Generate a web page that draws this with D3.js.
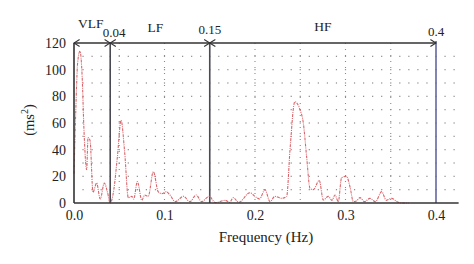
<!DOCTYPE html>
<html>
  <head>
    <meta charset="utf-8">
    <script src="https://d3js.org/d3.v7.min.js"></script>
    <style>
      body { margin: 0; background: #fff; }
      text { font-family: "Liberation Serif", "DejaVu Serif", serif; fill: #222; }
    </style>
  </head>
  <body>
    <svg width="474" height="264" id="chart"></svg>
    <script>
      // spectrum
      var freq = [0.000, 0.002, 0.004, 0.0066, 0.009, 0.011, 0.014, 0.0155, 0.0177, 0.021, 0.025, 0.029, 0.0335, 0.037, 0.040,
                  0.044, 0.048, 0.052, 0.056, 0.060, 0.064, 0.066, 0.070, 0.075, 0.078, 0.082, 0.0877, 0.093, 0.097, 0.102, 0.106,
                  0.112, 0.121, 0.128, 0.135, 0.141, 0.1495, 0.156, 0.167, 0.172, 0.176, 0.182, 0.1945, 0.200, 0.205, 0.211,
                  0.2166, 0.222, 0.2295, 0.235, 0.2387, 0.244, 0.2497, 0.2534, 0.257, 0.2608, 0.2644, 0.271, 0.2755, 0.281,
                  0.285, 0.2884, 0.292, 0.2957, 0.301, 0.305, 0.3087, 0.312, 0.316, 0.321, 0.327, 0.333, 0.340, 0.345, 0.351,
                  0.357, 0.364, 0.370];
      var power = [22, 70, 105, 114, 95, 55, 25, 49, 47, 8, 15, 3, 15, 8, 0,
                   10, 35, 62, 38, 4, 5, 3, 16, 2, 6, 5, 23.5, 8.5, 7, 8.5, 6,
                   1, 5, 1, 6, 1, 5, 0.3, 2, 0.5, 4, 0.5, 7.7, 5, 3, 10,
                   1, 5, 3.5, 5, 40, 76, 70, 60, 35, 11, 10, 17, 2.2, 5,
                   2, 6, 1, 19, 20, 12, 1, 1.5, 4, 1, 3.5, 1, 8.5, 2, 3.5,
                   1, 0, 0];

      var bandEdges = [0, 0.04, 0.15, 0.4];
      var bandNames = ["VLF", "LF", "HF"];
      var bandLabelPos = [0.0185, 0.09, 0.275];
      var edgeLabels = ["0.04", "0.15", "0.4"];
      var xTicks = [0.0, 0.1, 0.2, 0.3, 0.4];
      var yTicks = [0, 20, 40, 60, 80, 100, 120];

      var svg = d3.select("#chart");
      var x = d3.scaleLinear().domain([0, 0.4]).range([74, 436]);
      var y = d3.scaleLinear().domain([0, 120]).range([203, 43]);
      var xEnd = x(0.425);

      var defs = svg.append("defs");
      ["start", "end"].forEach(function (k) {
        defs.append("marker")
            .attr("id", "chev-" + k)
            .attr("viewBox", "0 0 10 10")
            .attr("refX", k == "end" ? 9 : 1).attr("refY", 5)
            .attr("markerWidth", 7).attr("markerHeight", 10)
            .attr("markerUnits", "userSpaceOnUse")
            .attr("orient", "auto")
          .append("path")
            .attr("d", k == "end" ? "M1,0 L9,5 L1,10" : "M9,0 L1,5 L9,10")
            .attr("fill", "none").attr("stroke", "#333").attr("stroke-width", 1.5);
      });

      // dotted grid
      var g = svg.append("g");
      var gx = d3.range(1, 43).map(function (i) { return i / 100; });
      d3.range(10, 120, 10).forEach(function (v) {
        g.selectAll(null).data(gx).enter().append("rect")
          .attr("x", function (d) { return x(d) - 0.6; })
          .attr("y", y(v) - 0.6)
          .attr("width", 1.2).attr("height", 1.2)
          .attr("fill", "#8a8a8a");
      });
      [0.05, 0.1, 0.2, 0.25, 0.3, 0.35].forEach(function (f) {
        g.append("line")
          .attr("x1", x(f)).attr("x2", x(f))
          .attr("y1", y(120)).attr("y2", y(0))
          .attr("stroke", "#8a8a8a").attr("stroke-width", 1.1)
          .attr("stroke-dasharray", "1,5");
      });

      // band boundaries
      [0.04, 0.15].forEach(function (f) {
        svg.append("line")
          .attr("x1", x(f)).attr("x2", x(f))
          .attr("y1", y(120)).attr("y2", y(0))
          .attr("stroke", "#4a4a55").attr("stroke-width", 1.6);
      });
      svg.append("line")
        .attr("x1", x(0.4)).attr("x2", x(0.4))
        .attr("y1", y(120) - 2).attr("y2", y(0))
        .attr("stroke", "#6666a0").attr("stroke-width", 1.6);

      // spectrum
      var pts = freq.map(function (f, i) { return [f, power[i]]; });
      svg.append("path")
        .datum(pts)
        .attr("fill", "none")
        .attr("stroke", "#d9656b")
        .attr("stroke-width", 1.1)
        .attr("stroke-dasharray", "3,1,1,1")
        .attr("d", d3.line()
          .x(function (d) { return x(d[0]); })
          .y(function (d) { return y(d[1]); })
          .curve(d3.curveMonotoneX));

      // axes
      svg.append("line")
        .attr("x1", x(0)).attr("x2", x(0)).attr("y1", y(120)).attr("y2", y(0))
        .attr("stroke", "#333").attr("stroke-width", 1.6);
      svg.append("line")
        .attr("x1", x(0)).attr("x2", xEnd).attr("y1", y(0)).attr("y2", y(0))
        .attr("stroke", "#333").attr("stroke-width", 1.6);

      var ya = svg.append("g")
        .attr("transform", "translate(" + x(0) + ",0)")
        .call(d3.axisLeft(y).tickValues(yTicks).tickSize(0).tickPadding(8));
      ya.select(".domain").remove();
      ya.selectAll("text").style("font-size", "14px").style("font-family", "Liberation Serif, serif").attr("fill", "#222");

      var xa = svg.append("g")
        .attr("transform", "translate(0," + y(0) + ")")
        .call(d3.axisBottom(x).tickValues(xTicks).tickFormat(d3.format(".1f")).tickSize(0).tickPadding(7));
      xa.select(".domain").remove();
      xa.selectAll("text").style("font-size", "14px").style("font-family", "Liberation Serif, serif").attr("fill", "#222");

      // band arrows and labels
      var nameBase = [28, 32, 31];
      var edgeBase = [37, 34, 36];
      var edgeShift = [4, 0, 0];
      for (var i = 0; i < 3; i++) {
        svg.append("line")
          .attr("x1", x(bandEdges[i])).attr("x2", x(bandEdges[i + 1]))
          .attr("y1", y(120)).attr("y2", y(120))
          .attr("stroke", "#333").attr("stroke-width", 1.6)
          .attr("marker-start", "url(#chev-start)")
          .attr("marker-end", "url(#chev-end)");
        svg.append("text")
          .attr("x", x(bandLabelPos[i])).attr("y", nameBase[i])
          .attr("text-anchor", "middle")
          .style("font-size", "13.5px")
          .text(bandNames[i]);
        svg.append("text")
          .attr("x", x(bandEdges[i + 1]) + edgeShift[i]).attr("y", edgeBase[i])
          .attr("text-anchor", "middle")
          .style("font-size", "13px")
          .text(edgeLabels[i]);
      }

      svg.append("text")
        .attr("x", 266).attr("y", 242)
        .attr("text-anchor", "middle")
        .style("font-size", "15px")
        .text("Frequency (Hz)");

      var yl = svg.append("text")
        .attr("transform", "translate(34,120) rotate(-90)")
        .attr("text-anchor", "middle")
        .style("font-size", "14.5px");
      yl.append("tspan").text("(ms");
      yl.append("tspan").attr("dy", -6).style("font-size", "10px").text("2");
      yl.append("tspan").attr("dy", 6).text(")");
    </script>
  </body>
</html>
